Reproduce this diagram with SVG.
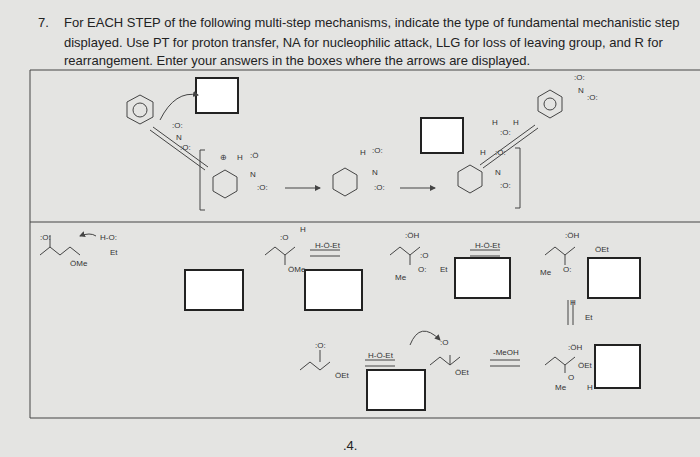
<svg xmlns="http://www.w3.org/2000/svg" width="700" height="457" viewBox="0 0 700 457">
<style>
.t{font-family:"Liberation Sans",Arial,sans-serif;font-size:13px;fill:#222}
.s{font-family:"Liberation Sans",Arial,sans-serif;font-size:8px;fill:#333}
.b{fill:#fff;stroke:#222;stroke-width:2}
.m{fill:none;stroke:#444;stroke-width:1}
.ar{fill:none;stroke:#444;stroke-width:1;marker-end:url(#a)}
</style>
<defs><marker id="a" markerWidth="6" markerHeight="6" refX="5" refY="3" orient="auto"><path d="M0,0L6,3L0,6z" fill="#444"/></marker></defs>
<rect width="700" height="457" fill="#e4e4e2"/>
<text class="t" x="38" y="27">7.</text>
<text class="t" x="64" y="27">For EACH STEP of the following multi-step mechanisms, indicate the type of fundamental mechanistic step</text>
<text class="t" x="64" y="47">displayed. Use PT for proton transfer, NA for nucleophilic attack, LLG for loss of leaving group, and R for</text>
<text class="t" x="64" y="65">rearrangement. Enter your answers in the boxes where the arrows are displayed.</text>
<g id="frame"><path class="m" d="M30,70H700M30,70V418H700M30,222H700" stroke-width="1.2"/></g>
<g id="boxes">
<rect class="b" x="196" y="78" width="42" height="35"/>
<rect class="b" x="421" y="118" width="42" height="35"/>
<rect class="b" x="185" y="270" width="58" height="40"/>
<rect class="b" x="305" y="270" width="57" height="40"/>
<rect class="b" x="455" y="258" width="55" height="40"/>
<rect class="b" x="588" y="258" width="52" height="40"/>
<rect class="b" x="367" y="370" width="58" height="40"/>
<rect class="b" x="595" y="345" width="45" height="43"/>
</g>
<g id="molecules">
<polygon class="m" points="140,95 153,102 153,117 140,124 127,117 127,102"/>
<circle class="m" cx="140" cy="110" r="7"/>
<text class="s" x="172" y="128">:O:</text><text class="s" x="176" y="140">N</text><text class="s" x="180" y="150">:O:</text>
<polygon class="m" points="550,90 562,97 562,111 550,118 538,111 538,97"/>
<circle class="m" cx="550" cy="104" r="6"/>
<text class="s" x="574" y="80">:O:</text><text class="s" x="578" y="93">N</text><text class="s" x="587" y="100">:O:</text>
<text class="s" x="492" y="125">H</text><text class="s" x="500" y="135">:O:</text><text class="s" x="513" y="125">H</text>
<path class="m" d="M205,150h-5v60h5M515,148h5v60h-5"/>
<polygon class="m" points="225,170 237,177 237,191 225,198 213,191 213,177"/>
<text class="s" x="220" y="160">⊕</text><text class="s" x="237" y="160">H</text><text class="s" x="250" y="158">:Ö</text><text class="s" x="250" y="177">N</text><text class="s" x="257" y="190">:O:</text>
<polygon class="m" points="345,168 357,175 357,189 345,196 333,189 333,175"/>
<text class="s" x="360" y="155">H</text><text class="s" x="372" y="153">:O:</text><text class="s" x="372" y="175">N</text><text class="s" x="374" y="190">:O:</text>
<polygon class="m" points="470,165 482,172 482,186 470,193 458,186 458,172"/>
<text class="s" x="480" y="155">H</text><text class="s" x="495" y="155">:O:</text><text class="s" x="495" y="175">N</text><text class="s" x="500" y="188">:O:</text>
<path class="m" d="M40,255l10,-8l10,8l10,-8M50,247v-12M70,247l10,8"/>
<text class="s" x="40" y="240">:O:</text><text class="s" x="70" y="266">ÖMe</text><text class="s" x="100" y="240">H-O:</text><text class="s" x="110" y="255">Et</text>
<path class="m" d="M265,255l10,-8l10,8l10,-8M285,255v10"/>
<text class="s" x="280" y="240">:O</text><text class="s" x="300" y="232">H</text><text class="s" x="288" y="272">ÖMe</text>
<text class="s" x="315" y="248">H-Ö-Et</text>
<path class="m" d="M390,255l10,-8l10,8l10,-8M410,255v10"/>
<text class="s" x="405" y="238">:ÖH</text><text class="s" x="420" y="258">:O</text><text class="s" x="418" y="272">O:</text><text class="s" x="440" y="272">Et</text><text class="s" x="395" y="280">Me</text>
<text class="s" x="475" y="248">H-Ö-Et</text>
<path class="m" d="M545,255l10,-8l10,8l10,-8M565,255v10"/>
<text class="s" x="565" y="238">:ÖH</text><text class="s" x="595" y="252">ÖEt</text><text class="s" x="563" y="272">O:</text><text class="s" x="540" y="275">Me</text>
<text class="s" x="570" y="305">H</text><text class="s" x="585" y="320">Et</text>
<path class="m" d="M300,370l10,-8l10,8l10,-8M320,362v-12"/>
<text class="s" x="315" y="348">:O:</text><text class="s" x="335" y="378">ÖEt</text>
<text class="s" x="368" y="358">H-Ö-Et</text>
<path class="m" d="M430,365l10,-8l10,8l10,-8M450,365v-10"/>
<text class="s" x="440" y="345">:O</text><text class="s" x="455" y="375">ÖEt</text>
<text class="s" x="493" y="355">-MeOH</text>
<path class="m" d="M545,365l10,-8l10,8l10,-8M565,365v8"/>
<text class="s" x="568" y="350">:ÖH</text><text class="s" x="578" y="368">ÖEt</text><text class="s" x="568" y="380">O</text><text class="s" x="555" y="390">Me</text><text class="s" x="587" y="390">H</text>
<text class="t" x="343" y="450">.4.</text>
</g>
<g id="connectors">
<path class="ar" d="M160,120Q175,90 198,95"/>
<path class="m" d="M150,130L205,170M153,127L208,167"/>
<path class="m" d="M535,125L480,165M538,128L483,168"/>
<path class="ar" d="M285,188H320"/>
<path class="ar" d="M400,188H435"/>
<path class="m" d="M310,250h30M340,256h-30"/>
<path class="m" d="M470,250h30M500,256h-30"/>
<path class="m" d="M365,360h30M395,366h-30"/>
<path class="m" d="M490,360h30M520,366h-30"/>
<path class="m" d="M568,300v25M573,300v25"/>
<path class="ar" d="M96,236Q90,232 80,236"/>
<path class="ar" d="M410,345Q420,320 440,340"/>
</g>
</svg>
